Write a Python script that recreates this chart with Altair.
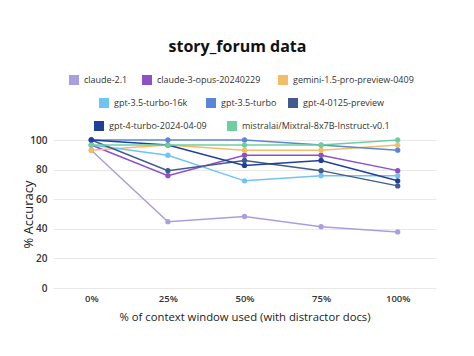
import altair as alt
import pandas as pd

contexts = ["0%", "25%", "50%", "75%", "100%"]
models = [
    "claude-2.1",
    "claude-3-opus-20240229",
    "gemini-1.5-pro-preview-0409",
    "gpt-3.5-turbo-16k",
    "gpt-3.5-turbo",
    "gpt-4-0125-preview",
    "gpt-4-turbo-2024-04-09",
    "mistralai/Mixtral-8x7B-Instruct-v0.1",
]
colors = ["#a99fe0", "#8e4fc9", "#f5bc66", "#70c4f3", "#5b86d8", "#3f5b8f", "#1e409b", "#6dcf9f"]

claude_21 = [93.1, 44.8, 48.3, 41.4, 37.9]
claude_3_opus = [96.6, 75.9, 89.7, 89.7, 79.3]
gemini_15 = [93.1, 96.6, 93.1, 93.1, 96.6]
gpt35_16k = [96.6, 89.7, 72.4, 75.9, 75.9]
gpt35 = [100.0, 100.0, 100.0, 96.6, 93.1]
gpt4_0125 = [100.0, 79.3, 86.2, 79.3, 69.0]
gpt4_turbo = [100.0, 96.6, 82.8, 86.2, 72.4]
mixtral = [96.6, 96.6, 96.6, 96.6, 100.0]

series = [claude_21, claude_3_opus, gemini_15, gpt35_16k, gpt35, gpt4_0125, gpt4_turbo, mixtral]
rows = []
for m, vals in zip(models, series):
    for c, v in zip(contexts, vals):
        rows.append({"model": m, "context": c, "accuracy": v})
df = pd.DataFrame(rows)

FONT = "Open Sans"

# legend entry placement (relative to plot origin), laid out in three centred rows
legend_pos = [(16, -65), (89, -65), (225, -65),
              (46, -42), (153, -42), (235, -42),
              (41, -19), (174, -19)]

x_enc = alt.X("context:N", sort=contexts,
              scale=alt.Scale(paddingOuter=0.5, paddingInner=0),
              axis=alt.Axis(title="% of context window used (with distractor docs)",
                            labelAngle=0, ticks=False, domain=False, grid=False,
                            labelPadding=5, titlePadding=9,
                            labelFontSize=9.5, titleFontSize=11.3,
                            titleFontWeight="normal", labelFontWeight=600,
                            labelColor="#333", titleColor="#222",
                            labelFont=FONT, titleFont=FONT))
y_enc = alt.Y("accuracy:Q", scale=alt.Scale(domain=[0, 100]),
              axis=alt.Axis(title="% Accuracy", values=[0, 20, 40, 60, 80, 100],
                            ticks=False, domain=False, gridColor="#e8e8e8",
                            labelPadding=6, titlePadding=-6,
                            labelFontSize=10, titleFontSize=13,
                            titleFontWeight="normal", labelFontWeight=600,
                            labelColor="#333", titleColor="#222",
                            labelFont=FONT, titleFont=FONT))

layers = []
for i, m in enumerate(models):
    lx, ly = legend_pos[i]
    layers.append(
        alt.Chart(df).transform_filter(alt.datum.model == m)
        .mark_line(point=alt.OverlayMarkDef(size=28, filled=True), strokeWidth=1.5)
        .encode(
            x=x_enc, y=y_enc,
            color=alt.Color("model:N",
                            scale=alt.Scale(domain=[m], range=[colors[i]]),
                            legend=alt.Legend(title=None, orient="none",
                                              legendX=lx, legendY=ly,
                                              symbolType="square", symbolSize=100,
                                              symbolStrokeWidth=0, symbolOpacity=1,
                                              labelFontSize=9, labelFont=FONT,
                                              labelFontWeight=500,
                                              labelColor="#333", padding=0,
                                              labelLimit=400, labelOffset=5)),
        )
    )

chart = alt.layer(*layers).resolve_scale(color="independent").properties(
    width=383, height=148,
    title=alt.Title("story_forum data", fontSize=16, font=FONT, fontWeight="bold",
                    color="#111", offset=20, dx=-7),
    padding={"left": 14, "top": 31, "right": 10, "bottom": 10},
    background="white",
).configure_view(stroke=None)

chart.save("out.html", embed_options={"renderer": "svg", "actions": False})
